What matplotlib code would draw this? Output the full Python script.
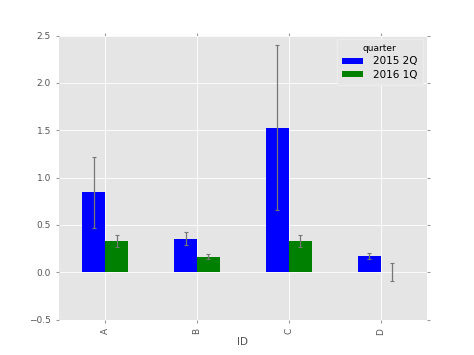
import numpy as np
import matplotlib
matplotlib.use("Agg")
import matplotlib.pyplot as plt

ids = ["A", "B", "C", "D"]
quarters = ["2015 2Q", "2016 1Q"]
means_2015 = [0.845, 0.355, 1.525, 0.17]
means_2016 = [0.33, 0.165, 0.33, 0.0]
err_2015 = [0.375, 0.065, 0.87, 0.03]
err_2016 = [0.065, 0.03, 0.065, 0.095]

COLORS = ["#0000ff", "#008000"]

fig = plt.figure(figsize=(4.74, 3.55), dpi=100)
ax = fig.add_axes([0.125, 0.1, 0.775, 0.8])
ax.set_facecolor("#E5E5E5")
for s in ax.spines.values():
    s.set_visible(False)
ax.grid(True, color="white", linewidth=0.6)
ax.set_axisbelow(True)

x = np.arange(len(ids))
w = 0.25
for i, (vals, errs) in enumerate([(means_2015, err_2015), (means_2016, err_2016)]):
    ax.bar(x - w / 2 + i * w, vals, w, color=COLORS[i], label=quarters[i],
           yerr=errs, ecolor="#777777", capsize=1.5,
           error_kw=dict(elinewidth=0.9, capthick=0.8), linewidth=0)

ax.set_xlim(-0.5, 3.5)
ax.set_ylim(-0.5, 2.5)
ax.set_yticks(np.arange(-0.5, 2.51, 0.5))
ax.set_xticks(x)
ax.set_xticklabels(ids, rotation=90)
ax.tick_params(axis="both", labelsize=6.5, labelcolor="#555555", color="#999999",
               direction="out", length=2.5, top=True, right=True)
ax.set_xlabel("ID", fontsize=7.5, color="#555555", labelpad=2)

leg = ax.legend(title="quarter", fontsize=7.5, title_fontsize=6.5, loc="upper right",
                handlelength=2.0, handleheight=0.55, handletextpad=1.0, frameon=True,
                fancybox=False, borderaxespad=0.35, labelspacing=0.3, borderpad=0.5)
leg.get_frame().set_facecolor("#E5E5E5")
leg.get_frame().set_edgecolor("#EEEEEE")

fig.savefig("out.png", dpi=100)
